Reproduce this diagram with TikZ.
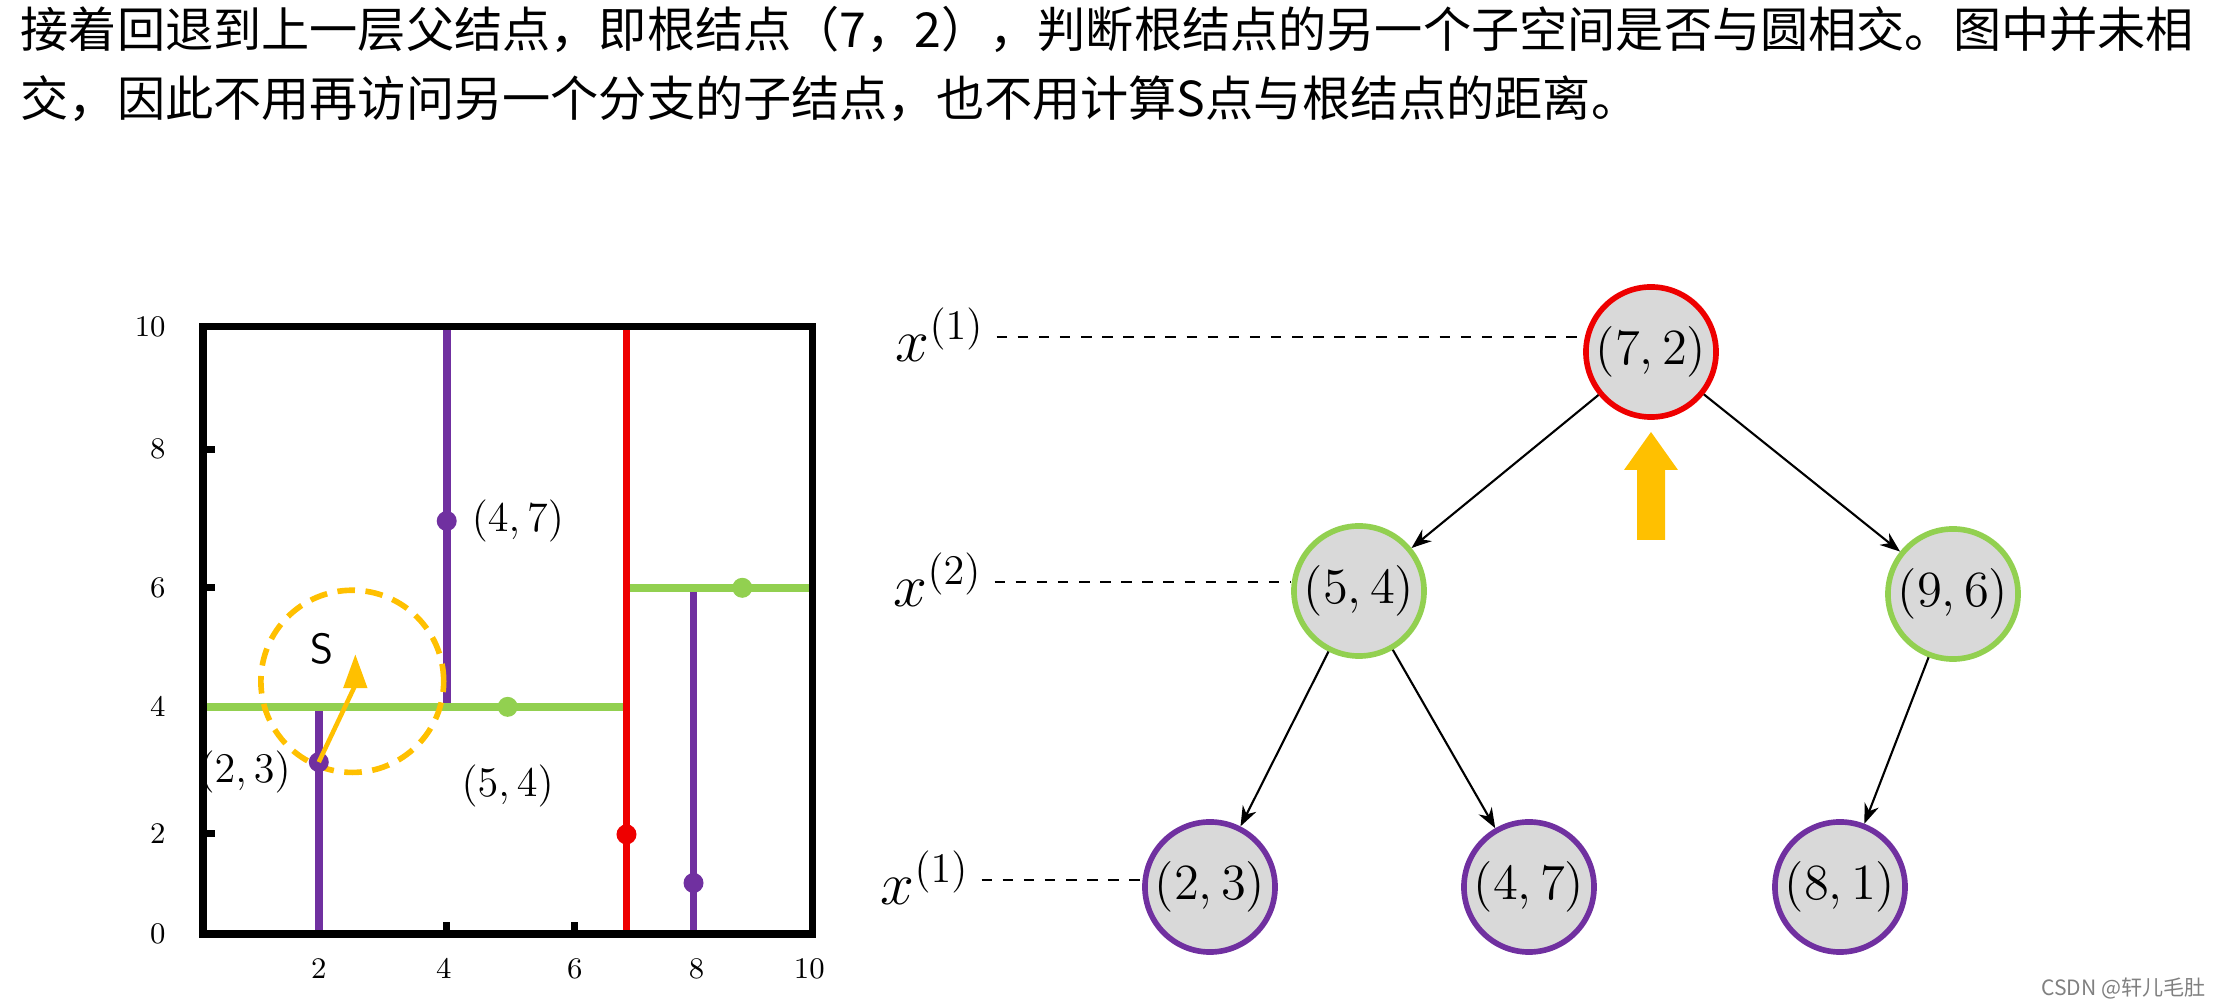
\documentclass[tikz,border=0pt]{standalone}
\usepackage{fontspec}
\newfontfamily\cjk{Noto Sans CJK SC}
\usetikzlibrary{positioning,arrows.meta}
\definecolor{kdred}{HTML}{EE0000}
\definecolor{kdgreen}{HTML}{92D050}
\definecolor{kdpurple}{HTML}{7030A0}
\definecolor{kdyellow}{HTML}{FFC000}
\tikzset{
>=Stealth,
kd node/.style={circle,draw,fill=gray!30,line width=1.6pt,minimum size=1.3cm,inner sep=0pt,font=\fontsize{15}{15}\selectfont},
level label/.style={font=\fontsize{18}{18}\selectfont},
split/.style={line width=2.2pt},
pt/.style={circle,fill,inner sep=0pt,minimum size=0.2cm},
plot label/.style={font=\fontsize{12.5}{12.5}\selectfont},
tick label/.style={font=\fontsize{8.5}{8.5}\selectfont},
}
\begin{document}
\begin{tikzpicture}[x=0.01cm,y=-0.01cm]
\useasboundingbox (0,0) rectangle (2226,1007);
% caption
\node[anchor=north west,align=left,inner sep=0pt,font=\cjk\fontsize{13.7}{19.5}\selectfont] (cap) at (20,6)
 {接着回退到上一层父结点，即根结点（7，2），判断根结点的另一个子空间是否与圆相交。图中并未相\\交，因此不用再访问另一个分支的子结点，也不用计算S点与根结点的距离。};
% plot
\begin{scope}[shift={(203,934)},x=0.609cm,y=0.607cm]
\draw[split,kdpurple] (1.9,0) -- (1.9,3.74);
\draw[split,kdpurple] (4,3.74) -- (4,10);
\draw[split,kdpurple] (8.05,0) -- (8.05,5.7);
\draw[split,kdgreen] (0,3.74) -- (6.95,3.74);
\draw[split,kdgreen] (6.95,5.7) -- (10,5.7);
\draw[split,kdred] (6.95,0) -- (6.95,10);
\draw[line width=2pt] (0,0) rectangle (10,10);
\foreach \t in {1.66,5.7,7.98} \draw[line width=2pt] (0,\t) -- (0.2,\t);
\foreach \t in {4,6.1} \draw[line width=2pt] (\t,0) -- (\t,0.2);
\foreach \t/\p in {0/0,2/1.66,4/3.74,6/5.7,8/7.98,10/10} \node[tick label,left=0.25cm] at (0,\p) {\t};
\foreach \t/\p in {2/1.9,4/3.95,6/6.1,8/8.1,10/9.95} \node[tick label,below=0.12cm] at (\p,0) {\t};
\draw[kdyellow,line width=1.6pt,dashed,dash pattern=on 5pt off 3pt] (2.45,4.16) circle (1.5);
\node[pt,kdpurple] (p23) at (1.9,2.83) {};
\node[pt,kdpurple] (p47) at (4,6.8) {};
\node[pt,kdgreen] (p54) at (5,3.74) {};
\node[pt,kdred] (p72) at (6.95,1.64) {};
\node[pt,kdpurple] (p81) at (8.05,0.84) {};
\node[pt,kdgreen] (p96) at (8.85,5.7) {};
\fill[kdyellow] (2.3,4.05) -- (2.5,4.6) -- (2.7,4.05) -- cycle;
\coordinate (s) at (2.5,4.1);
\draw[kdyellow,line width=1.3pt] (p23.center) -- (s);
\node[font=\sffamily\fontsize{12}{12}\selectfont] (sl) at (1.95,4.7) {S};
\node[plot label,right=0.02cm of p47] {$(4,7)$};
\node[plot label,below=0.35cm of p54] {$(5,4)$};
\node[plot label,left=0.05cm of p23,yshift=-0.1cm] {$(2,3)$};
\end{scope}
% tree
\node[kd node,draw=kdred] (n72) at (1651,352) {$(7,2)$};
\node[kd node,draw=kdgreen] (n54) at (1359,591) {$(5,4)$};
\node[kd node,draw=kdgreen] (n96) at (1953,594) {$(9,6)$};
\node[kd node,draw=kdpurple] (n23) at (1210,887) {$(2,3)$};
\node[kd node,draw=kdpurple] (n47) at (1529,887) {$(4,7)$};
\node[kd node,draw=kdpurple] (n81) at (1840,887) {$(8,1)$};
\path[->,semithick] (n72) edge (n54) (n72) edge (n96)
 (n54) edge (n23) (n54) edge (n47) (n96) edge (n81);
\node[level label] (l1) at (940,335) {$x^{(1)}$};
\node[level label] (l2) at (938,580) {$x^{(2)}$};
\node[level label] (l3) at (925,878) {$x^{(1)}$};
\draw[dashed] (l1.east) ++(0,2) coordinate (d1) -- (n72.west |- d1);
\draw[dashed] (l2.east) ++(0,2) coordinate (d2) -- (n54.west |- d2);
\draw[dashed] (l3.east) ++(0,2) coordinate (d3) -- (n23.west |- d3);
% yellow arrow
\fill[kdyellow] (1637,540) -- (1637,470) -- (1624,470) -- (1651,432) -- (1678,470) -- (1665,470) -- (1665,540) -- cycle;
\node[anchor=east,font=\cjk\fontsize{6}{6}\selectfont,text=gray] (wm) at (2218,988) {CSDN @轩儿毛肚};
\end{tikzpicture}
\end{document}
